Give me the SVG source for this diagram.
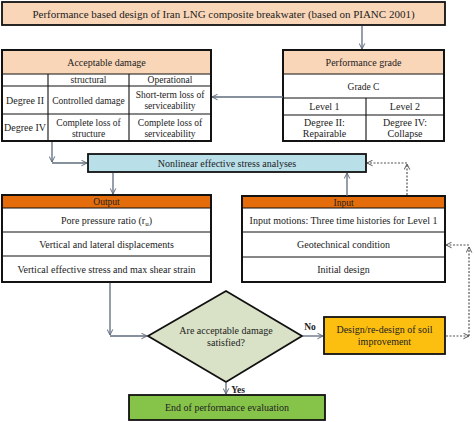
<svg xmlns="http://www.w3.org/2000/svg" width="474" height="422" viewBox="0 0 474 422">
<defs>
<marker id="ah" viewBox="0 0 10 10" refX="9" refY="5" markerWidth="7" markerHeight="7" markerUnits="userSpaceOnUse" orient="auto"><path d="M1,1 L9,5 L1,9" fill="none" stroke="#5f6b7c" stroke-width="1.4"/></marker>
<marker id="ahd" viewBox="0 0 10 10" refX="9" refY="5" markerWidth="7" markerHeight="7" markerUnits="userSpaceOnUse" orient="auto"><path d="M1,1 L9,5 L1,9" fill="none" stroke="#555" stroke-width="1.4"/></marker>
</defs>
<style>
text{font-family:"Liberation Serif","Times New Roman",serif;fill:#222;text-anchor:middle}
.box{stroke:#111;stroke-width:1.8}
.ln{stroke:#111;stroke-width:1.1;fill:none}
.peach{fill:#fad6b8}
.org{fill:#e46c0a}
.wh{fill:#fff}
.c{fill:none;stroke:#5f6b7c;stroke-width:1.3;marker-end:url(#ah)}
.d{fill:none;stroke:#555;stroke-width:1.2;stroke-dasharray:2 1.5;marker-end:url(#ahd)}
.t11{font-size:11px}
.t10{font-size:10px}
.t9{font-size:9.5px}
.b{font-weight:bold}
</style>
<rect width="474" height="422" fill="#fff"/>

<g id="title">
<rect class="box peach" x="2" y="2" width="443" height="23"/>
<text class="t11" x="223.5" y="17.5">Performance based design of Iran LNG composite breakwater (based on PIANC 2001)</text>
</g>

<g id="acceptable-damage">
<rect class="box wh" x="2" y="50" width="209" height="91"/>
<rect class="peach" x="3" y="51" width="207" height="23"/>
<path class="ln" d="M2,74 H211 M2,86 H211 M2,114 H211 M48,74 V141 M129,74 V141"/>
<rect class="box" x="2" y="50" width="209" height="91" fill="none"/>
<text class="t10" x="106.5" y="66">Acceptable damage</text>
<text class="t9" x="88.5" y="83">structural</text>
<text class="t9" x="170" y="83">Operational</text>
<text class="t10" x="25" y="103.5">Degree II</text>
<text class="t9" x="88.5" y="103.5">Controlled damage</text>
<text class="t9" x="170" y="98">Short-term loss of</text>
<text class="t9" x="170" y="109">serviceability</text>
<text class="t10" x="25" y="131">Degree IV</text>
<text class="t9" x="88.5" y="125.5">Complete loss of</text>
<text class="t9" x="88.5" y="136.5">structure</text>
<text class="t9" x="170" y="125.5">Complete loss of</text>
<text class="t9" x="170" y="136.5">serviceability</text>
</g>

<g id="performance-grade">
<rect class="box wh" x="283" y="50" width="161" height="91"/>
<rect class="peach" x="284" y="51" width="159" height="23"/>
<path class="ln" d="M283,74 H444 M283,98 H444 M283,115 H444 M366,98 V141"/>
<rect class="box" x="283" y="50" width="161" height="91" fill="none"/>
<text class="t10" x="363.5" y="66">Performance grade</text>
<text class="t9" x="363.5" y="89.5">Grade C</text>
<text class="t10" x="324.5" y="110">Level 1</text>
<text class="t10" x="405" y="110">Level 2</text>
<text class="t10" x="324.5" y="125.5">Degree II:</text>
<text class="t10" x="324.5" y="137">Repairable</text>
<text class="t10" x="405" y="125.5">Degree IV:</text>
<text class="t10" x="405" y="137">Collapse</text>
</g>

<g id="nonlinear">
<rect class="box" x="88" y="154" width="278" height="18" fill="#b9dfe9"/>
<text class="t10" x="227" y="166.5">Nonlinear effective stress analyses</text>
</g>

<g id="output">
<rect class="box wh" x="2" y="195" width="209" height="87"/>
<rect class="org" x="3" y="196" width="207" height="12"/>
<path class="ln" d="M2,208 H211 M2,232 H211 M2,256 H211"/>
<rect class="box" x="2" y="195" width="209" height="87" fill="none"/>
<text class="t9" x="106.5" y="205">Output</text>
<text class="t10" x="106.5" y="223.5">Pore pressure ratio (r<tspan font-size="7" dy="2">u</tspan><tspan dy="-2">)</tspan></text>
<text class="t10" x="106.5" y="247.5">Vertical and lateral displacements</text>
<text class="t10" x="106.5" y="272.5">Vertical effective stress and max shear strain</text>
</g>

<g id="input">
<rect class="box wh" x="242" y="196" width="203" height="86"/>
<rect class="org" x="243" y="197" width="201" height="11"/>
<path class="ln" d="M242,208 H445 M242,232 H445 M242,257 H445"/>
<rect class="box" x="242" y="196" width="203" height="86" fill="none"/>
<text class="t9" x="343.5" y="205.5">Input</text>
<text class="t10" x="343.5" y="223.5">Input motions: Three time histories for Level 1</text>
<text class="t10" x="343.5" y="248">Geotechnical condition</text>
<text class="t10" x="343.5" y="273">Initial design</text>
</g>

<g id="decision">
<polygon points="148,336 226,291 302,336 226,382" fill="#d9e2c6" stroke="#111" stroke-width="1.8"/>
<text class="t10" x="226" y="334">Are acceptable damage</text>
<text class="t10" x="226" y="345.5">satisfied?</text>
</g>

<g id="redesign">
<rect class="box" x="324" y="317" width="121" height="37" fill="#fdbf0f"/>
<text class="t10" x="384.5" y="333">Design/re-design of soil</text>
<text class="t10" x="384.5" y="345">improvement</text>
</g>

<g id="end">
<rect class="box" x="129" y="395" width="196" height="25" fill="#86c449"/>
<text class="t10" x="227" y="411">End of performance evaluation</text>
</g>

<g id="connectors">
<path class="c" d="M362,26 V49"/>
<path class="c" d="M283,97 H212"/>
<path class="c" d="M52,142 V162"/>
<path class="c" d="M52,163 H87"/>
<path class="c" d="M113,173 V194"/>
<path class="c" d="M347,196 V173"/>
<path class="d" d="M407,195 V164"/>
<path class="d" d="M407,163 H367"/>
<path class="c" d="M110,283 V335"/>
<path class="c" d="M110,336 H147"/>
<path class="c" d="M303,336 H323"/>
<path class="c" d="M226,383 V394"/>
<path class="d" d="M446,336 H469"/>
<path class="d" d="M469,336 V247"/>
<path class="d" d="M469,245 H446"/>
<text class="t9 b" x="310" y="330">No</text>
<text class="t9 b" x="238" y="393">Yes</text>
</g>
</svg>
